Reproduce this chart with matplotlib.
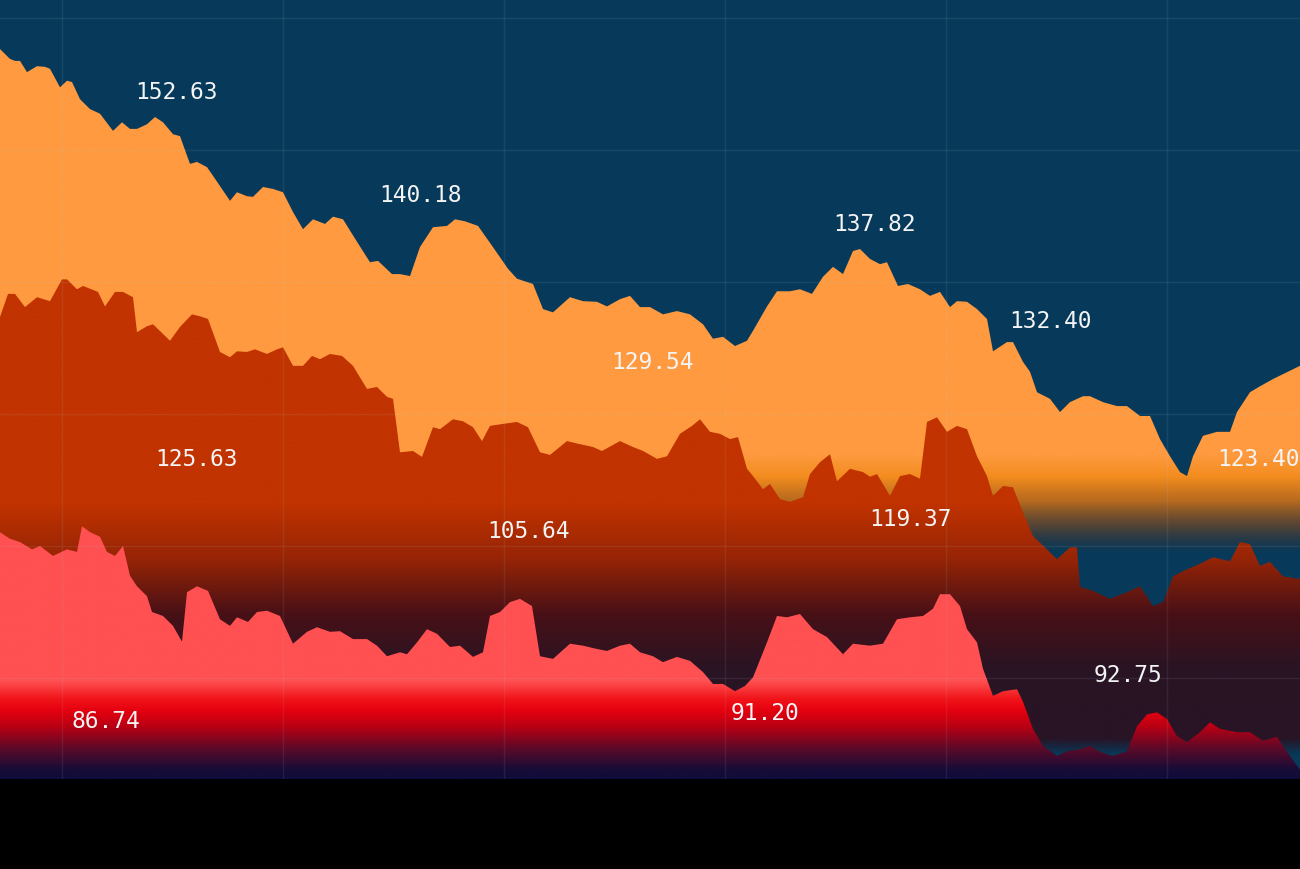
import numpy as np
import matplotlib
matplotlib.use("Agg")
import matplotlib.pyplot as plt
from matplotlib.patches import PathPatch

# ---------------- data ----------------
orange_x = [0, 1.0, 1.5, 2.0, 2.7, 3.7, 4.5, 5.0, 6.0, 6.7, 7.2, 8.0, 9.0, 10.0, 11.3, 12.2, 13.0, 13.7,
            14.7, 15.5, 16.3, 17.3, 18.0, 19.0, 19.7, 20.7, 21.3, 23.0, 23.7, 24.7, 25.3, 26.3, 27.3, 28.3,
            29.3, 30.3, 31.3, 32.5, 33.3, 34.3, 35.7, 37.0, 37.8, 39.2, 40.0, 41.0, 42.0, 43.3, 44.7, 45.5,
            46.5, 47.8, 49.2, 50.8, 51.7, 53.3, 54.3, 55.3, 57.0, 58.3, 59.7, 60.7, 62.0, 63.0, 64.0, 65.0,
            66.3, 67.7, 69.0, 70.3, 71.3, 72.3, 73.5, 74.7, 75.3, 76.7, 77.7, 79.0, 80.0, 81.2, 82.3, 83.3,
            84.3, 85.3, 86.0, 87.0, 88.0, 88.7, 89.8, 90.8, 92.0, 93.0, 94.0, 95.0, 95.7, 96.7, 97.7, 98.7,
            99.3, 100.7, 101.3, 102.3, 103.0, 103.7, 105.0, 106.0, 107.0, 108.3, 109.0, 110.3, 111.7, 112.7,
            114.0, 115.0, 116.0, 117.0, 118.0, 118.7, 119.3, 120.3, 121.7, 123.0, 123.7, 125.0, 126.0, 127.3,
            130.0]
orange_v = [155.3, 153.8, 153.5, 153.5, 151.8, 152.7, 152.6, 152.3, 149.5, 150.5, 150.3, 147.7, 146.2, 145.5,
            142.9, 144.2, 143.2, 143.2, 143.9, 145.0, 144.2, 142.4, 142.1, 137.9, 138.2, 137.4, 136.1, 132.3,
            133.6, 133.0, 132.9, 134.4, 134.1, 133.6, 130.6, 128.0, 129.5, 128.8, 129.9, 129.5, 126.1, 123.0,
            123.2, 121.2, 121.2, 120.9, 125.3, 128.3, 128.5, 129.5, 129.2, 128.5, 125.5, 122.0, 120.5, 119.7,
            115.9, 115.4, 117.7, 117.1, 117.0, 116.3, 117.4, 117.9, 116.2, 116.2, 115.1, 115.6, 115.1, 113.6,
            111.4, 111.7, 110.3, 111.1, 112.6, 116.3, 118.6, 118.6, 118.9, 118.2, 120.8, 122.3, 121.2, 124.7,
            125.0, 123.5, 122.7, 123.0, 119.4, 119.7, 118.9, 117.9, 118.5, 116.2, 117.1, 117.0, 115.9, 114.4,
            109.5, 110.9, 110.9, 107.9, 106.4, 103.3, 102.3, 100.3, 101.8, 102.7, 102.7, 101.8, 101.2, 101.2,
            99.7, 99.7, 96.2, 93.6, 91.2, 90.6, 93.6, 96.7, 97.3, 97.3, 100.3, 103.3, 104.2, 105.3, 107.3]

brown_x = [0, 0.8, 1.5, 2.5, 3.7, 5.0, 6.2, 6.7, 7.7, 8.3, 9.8, 10.5, 11.5, 12.3, 13.3, 13.7, 14.7, 15.3,
           17.0, 18.0, 19.2, 20.0, 20.8, 22.0, 23.0, 23.7, 24.7, 25.5, 26.7, 27.7, 28.3, 29.3, 30.3, 31.2,
           32.0, 33.0, 34.2, 35.3, 36.7, 37.7, 38.7, 39.3, 40.0, 41.3, 42.2, 43.3, 44.0, 45.3, 46.3, 47.3,
           48.2, 49.0, 50.3, 51.7, 52.8, 54.0, 55.0, 56.7, 57.8, 59.3, 60.2, 62.0, 63.3, 64.3, 65.7, 66.7,
           68.0, 69.2, 70.0, 71.0, 72.0, 73.0, 73.8, 74.7, 75.3, 76.3, 77.0, 78.0, 79.0, 80.3, 81.0, 82.0,
           83.0, 83.7, 85.0, 86.3, 87.0, 87.7, 89.0, 90.0, 91.0, 92.0, 92.7, 93.7, 94.7, 95.7, 96.7, 97.7,
           98.7, 99.3, 100.3, 101.3, 102.3, 103.3, 104.7, 105.7, 107.0, 107.7, 108.0, 109.3, 111.0, 112.7,
           114.0, 115.3, 116.3, 117.3, 118.3, 120.0, 121.3, 123.0, 124.0, 125.0, 126.0, 127.0, 128.3, 130.0]
brown_v = [114.7, 118.2, 118.2, 116.2, 117.7, 117.1, 120.4, 120.4, 118.9, 119.4, 118.5, 116.3, 118.5, 118.5,
           117.7, 112.4, 113.3, 113.6, 111.1, 113.2, 115.1, 114.8, 114.4, 109.4, 108.6, 109.5, 109.4, 109.8,
           109.1, 109.8, 110.1, 107.3, 107.3, 108.8, 108.3, 109.1, 108.8, 107.3, 103.8, 104.1, 102.6, 102.3,
           94.2, 94.4, 93.5, 98.0, 97.7, 99.2, 98.9, 98.0, 95.9, 98.2, 98.5, 98.8, 98.0, 94.2, 93.8, 95.9,
           95.5, 95.0, 94.4, 95.9, 95.0, 94.4, 93.2, 93.6, 97.0, 98.2, 99.2, 97.3, 97.0, 96.2, 96.5, 91.7,
           90.6, 88.6, 89.4, 87.1, 86.7, 87.4, 90.9, 92.7, 93.9, 89.8, 91.7, 91.2, 90.5, 90.9, 87.6, 90.6,
           90.9, 90.2, 98.8, 99.5, 97.3, 98.2, 97.7, 93.6, 90.6, 87.6, 89.1, 88.9, 85.1, 81.5, 79.5, 78.0,
           79.8, 79.8, 73.8, 73.2, 72.0, 73.0, 73.9, 70.9, 71.5, 75.4, 76.2, 77.3, 78.3, 77.7, 80.6, 80.3,
           77.0, 77.6, 75.4, 75.0]

red_x = [0, 1.0, 2.0, 3.2, 4.0, 5.3, 6.7, 7.7, 8.2, 9.0, 10.0, 10.7, 11.5, 12.3, 13.0, 13.7, 14.7, 15.2,
         16.3, 17.3, 18.2, 18.7, 19.7, 20.8, 22.0, 23.0, 23.7, 24.8, 25.7, 26.7, 28.0, 29.3, 30.7, 31.7,
         33.0, 34.0, 35.3, 36.7, 37.7, 38.7, 40.0, 40.7, 41.7, 42.7, 43.7, 45.0, 46.0, 47.3, 48.3, 49.0,
         50.0, 51.0, 52.0, 53.2, 54.0, 55.3, 57.0, 58.3, 59.7, 60.7, 62.0, 63.0, 64.0, 65.3, 66.3, 67.7,
         69.0, 70.3, 71.3, 72.3, 73.5, 74.5, 75.3, 76.7, 77.7, 78.7, 80.0, 81.3, 82.7, 84.3, 85.3, 87.0,
         88.3, 89.7, 91.0, 92.3, 93.3, 94.0, 95.0, 96.0, 96.7, 97.7, 98.3, 99.3, 100.3, 101.7, 102.3, 103.3,
         104.3, 105.7, 106.7, 108.0, 109.0, 110.0, 111.3, 112.7, 113.7, 114.7, 115.7, 116.7, 117.7, 118.7,
         120.0, 121.0, 122.0, 123.7, 125.0, 126.3, 127.7, 128.3, 129.7, 130.0]
red_v = [82.1, 81.1, 80.6, 79.5, 80.0, 78.5, 79.5, 79.1, 83.0, 82.1, 81.4, 79.1, 78.5, 80.0, 75.5, 73.9, 72.4,
         70.0, 69.4, 67.9, 65.5, 73.0, 73.9, 73.2, 68.9, 67.9, 69.2, 68.5, 70.0, 70.2, 69.4, 65.2, 67.0, 67.7,
         67.0, 67.1, 65.9, 65.9, 64.9, 63.3, 63.9, 63.6, 65.4, 67.4, 66.7, 64.7, 64.9, 63.2, 63.9, 69.4, 70.0,
         71.5, 72.0, 70.9, 63.3, 62.9, 65.2, 64.9, 64.4, 64.1, 64.9, 65.2, 63.9, 63.3, 62.4, 63.2, 62.6, 60.9,
         59.1, 59.1, 58.0, 58.8, 60.1, 65.4, 69.4, 69.2, 69.7, 67.4, 66.2, 63.6, 65.2, 64.9, 65.2, 68.9, 69.2,
         69.4, 70.5, 72.7, 72.7, 70.9, 67.4, 65.4, 61.4, 57.3, 58.0, 58.3, 56.4, 52.3, 49.7, 48.2, 48.9, 49.2,
         49.7, 48.8, 48.2, 48.9, 52.7, 54.5, 54.8, 53.8, 51.2, 50.3, 51.8, 53.3, 52.3, 51.8, 51.8, 50.5, 51.1,
         49.7, 46.7, 46.1]

label_text = ["152.63", "140.18", "137.82", "132.40", "123.40", "129.54",
              "125.63", "105.64", "119.37", "92.75", "86.74", "91.20"]
label_x = [17.7, 42.0, 87.5, 105.1, 125.8, 65.2, 19.6, 52.8, 91.1, 112.8, 10.6, 76.5]
label_y = [148.9, 133.3, 128.8, 114.2, 93.3, 108.0, 93.3, 82.4, 84.2, 60.5, 53.6, 54.8]

x_grid = [6.2, 28.3, 50.4, 72.5, 94.6, 116.7]
y_grid = [60, 80, 100, 120, 140, 160]

# ---------------- styles ----------------
BG = "#073a5a"
X_MIN, X_MAX = 0, 130
Y_MIN, Y_MAX = 44.7, 162.88

orange_stops = [(44.7, (80, 40, 30, 0.0)), (78.8, (80, 40, 30, 0.0)), (82.8, (150, 75, 20, 0.5)),
                (86.8, (215, 115, 20, 0.85)), (90.4, (242, 140, 30, 1.0)), (93.9, (255, 154, 64, 1.0)),
                (162.88, (255, 154, 64, 1.0))]
brown_stops = [(44.7, (40, 20, 38, 0.0)), (48.3, (40, 20, 38, 0.0)), (50.8, (40, 20, 38, 1.0)),
               (61.4, (42, 20, 36, 1.0)), (69.7, (72, 16, 22, 1.0)), (78.0, (150, 36, 6, 1.0)),
               (86.5, (193, 51, 0, 1.0)), (162.88, (193, 51, 0, 1.0))]
red_stops = [(44.7, (15, 12, 60, 1.0)), (46.2, (25, 12, 55, 1.0)), (49.2, (90, 10, 40, 1.0)),
             (52.6, (185, 0, 20, 1.0)), (55.0, (228, 0, 15, 1.0)), (56.8, (240, 20, 25, 1.0)),
             (59.5, (255, 80, 82, 1.0)), (162.88, (255, 80, 82, 1.0))]

fig = plt.figure(figsize=(13, 8.7), dpi=100, facecolor="black")
ax = fig.add_axes([0, 90 / 870, 1, 780 / 870])
ax.set_facecolor(BG)


def gradient_area(ax, xs, vs, stops, z):
    poly = ax.fill_between(xs, vs, Y_MIN, facecolor="none", edgecolor="none")
    path = poly.get_paths()[0]
    patch = PathPatch(path, transform=ax.transData, facecolor="none", edgecolor="none")
    ax.add_patch(patch)
    sv = np.array([s[0] for s in stops])
    sc = np.array([s[1] for s in stops], dtype=float)
    sc[:, :3] /= 255.0
    grid = np.linspace(Y_MIN, Y_MAX, 1200)
    img = np.zeros((grid.size, 1, 4))
    for c in range(4):
        img[:, 0, c] = np.interp(grid, sv, sc[:, c])
    im = ax.imshow(img, extent=[X_MIN, X_MAX, Y_MIN, Y_MAX], origin="lower",
                   aspect="auto", zorder=z, interpolation="bilinear")
    im.set_clip_path(patch)


gradient_area(ax, orange_x, orange_v, orange_stops, 1)
gradient_area(ax, brown_x, brown_v, brown_stops, 1.1)
gradient_area(ax, red_x, red_v, red_stops, 1.2)

ax.set_xlim(X_MIN, X_MAX)
ax.set_ylim(Y_MIN, Y_MAX)
ax.set_xticks(x_grid)
ax.set_yticks(y_grid)
ax.tick_params(length=0, labelbottom=False, labelleft=False)
ax.grid(True, color="#b8d4ea", alpha=0.09, lw=1)
ax.set_axisbelow(False)
for s in ax.spines.values():
    s.set_visible(False)

for t, x, y in zip(label_text, label_x, label_y):
    ax.text(x, y, t, color="#f4f4f4", fontsize=16.5, family="DejaVu Sans Mono",
            ha="center", va="center", zorder=5)

fig.savefig("out.png", dpi=100, facecolor="black")
